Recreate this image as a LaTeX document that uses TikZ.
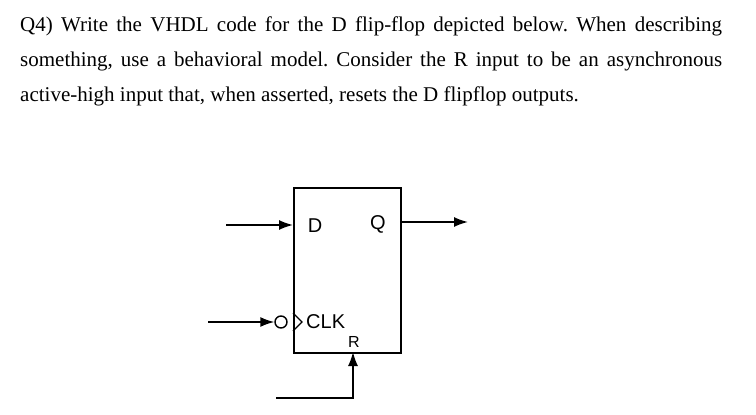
\documentclass[tikz,border=0pt]{standalone}
\usepackage{fontspec}
\setmainfont{Liberation Serif}
\newfontfamily\lsans{Liberation Sans}
\usetikzlibrary{arrows.meta}
\frenchspacing
\begin{document}
\begin{tikzpicture}[x=1pt,y=-1pt,
  wire/.style={line width=1.6pt,-{Latex[length=14pt,width=10pt]}},
  lbl/.style={font=\lsans\fontsize{20}{20}\selectfont,inner sep=0pt}]
\useasboundingbox (0,0) rectangle (756,415);
\node[anchor=north west,inner sep=0pt,text width=702pt,align=justify,
  font=\fontsize{21}{35}\selectfont] (q) at (20,17)
 {Q4) Write the VHDL code for the D flip-flop depicted below. When describing\linebreak something, use a behavioral model. Consider the R input to be an asynchronous\linebreak active-high input that, when asserted, resets the D flipflop outputs.};
\node[draw,line width=1.6pt,minimum width=107pt,minimum height=165pt,inner sep=0pt,anchor=north west] (ff) at (293,187) {};
\node[lbl] (d) at (315,226) {D};
\node[lbl] (qq) at (378,224) {Q};
\node[lbl,anchor=west] (clk) at (306,322) {CLK};
\node[lbl,font=\lsans\fontsize{16}{16}\selectfont] (r) at (354,342) {R};
\coordinate (din) at (226,225);
\coordinate (dend) at (293,225);
\coordinate (qs) at (400,222);
\coordinate (qout) at (468,222);
\coordinate (cin) at (208,322);
\node[draw,circle,line width=1.4pt,minimum size=12pt,inner sep=0pt] (bub) at (281,322) {};
\coordinate (rin) at (276,398);
\coordinate (rc) at (353,398);
\coordinate (rend) at (353,352);
\draw[wire] (din) -- (dend);
\draw[wire] (qs) -- (qout);
\draw[wire] (cin) -- (bub.west);
\draw[line width=1.4pt] (293,313) -- (302,322) -- (293,331);
\draw[wire] (rin) -- (rc) -- (rend);
\end{tikzpicture}
\end{document}
